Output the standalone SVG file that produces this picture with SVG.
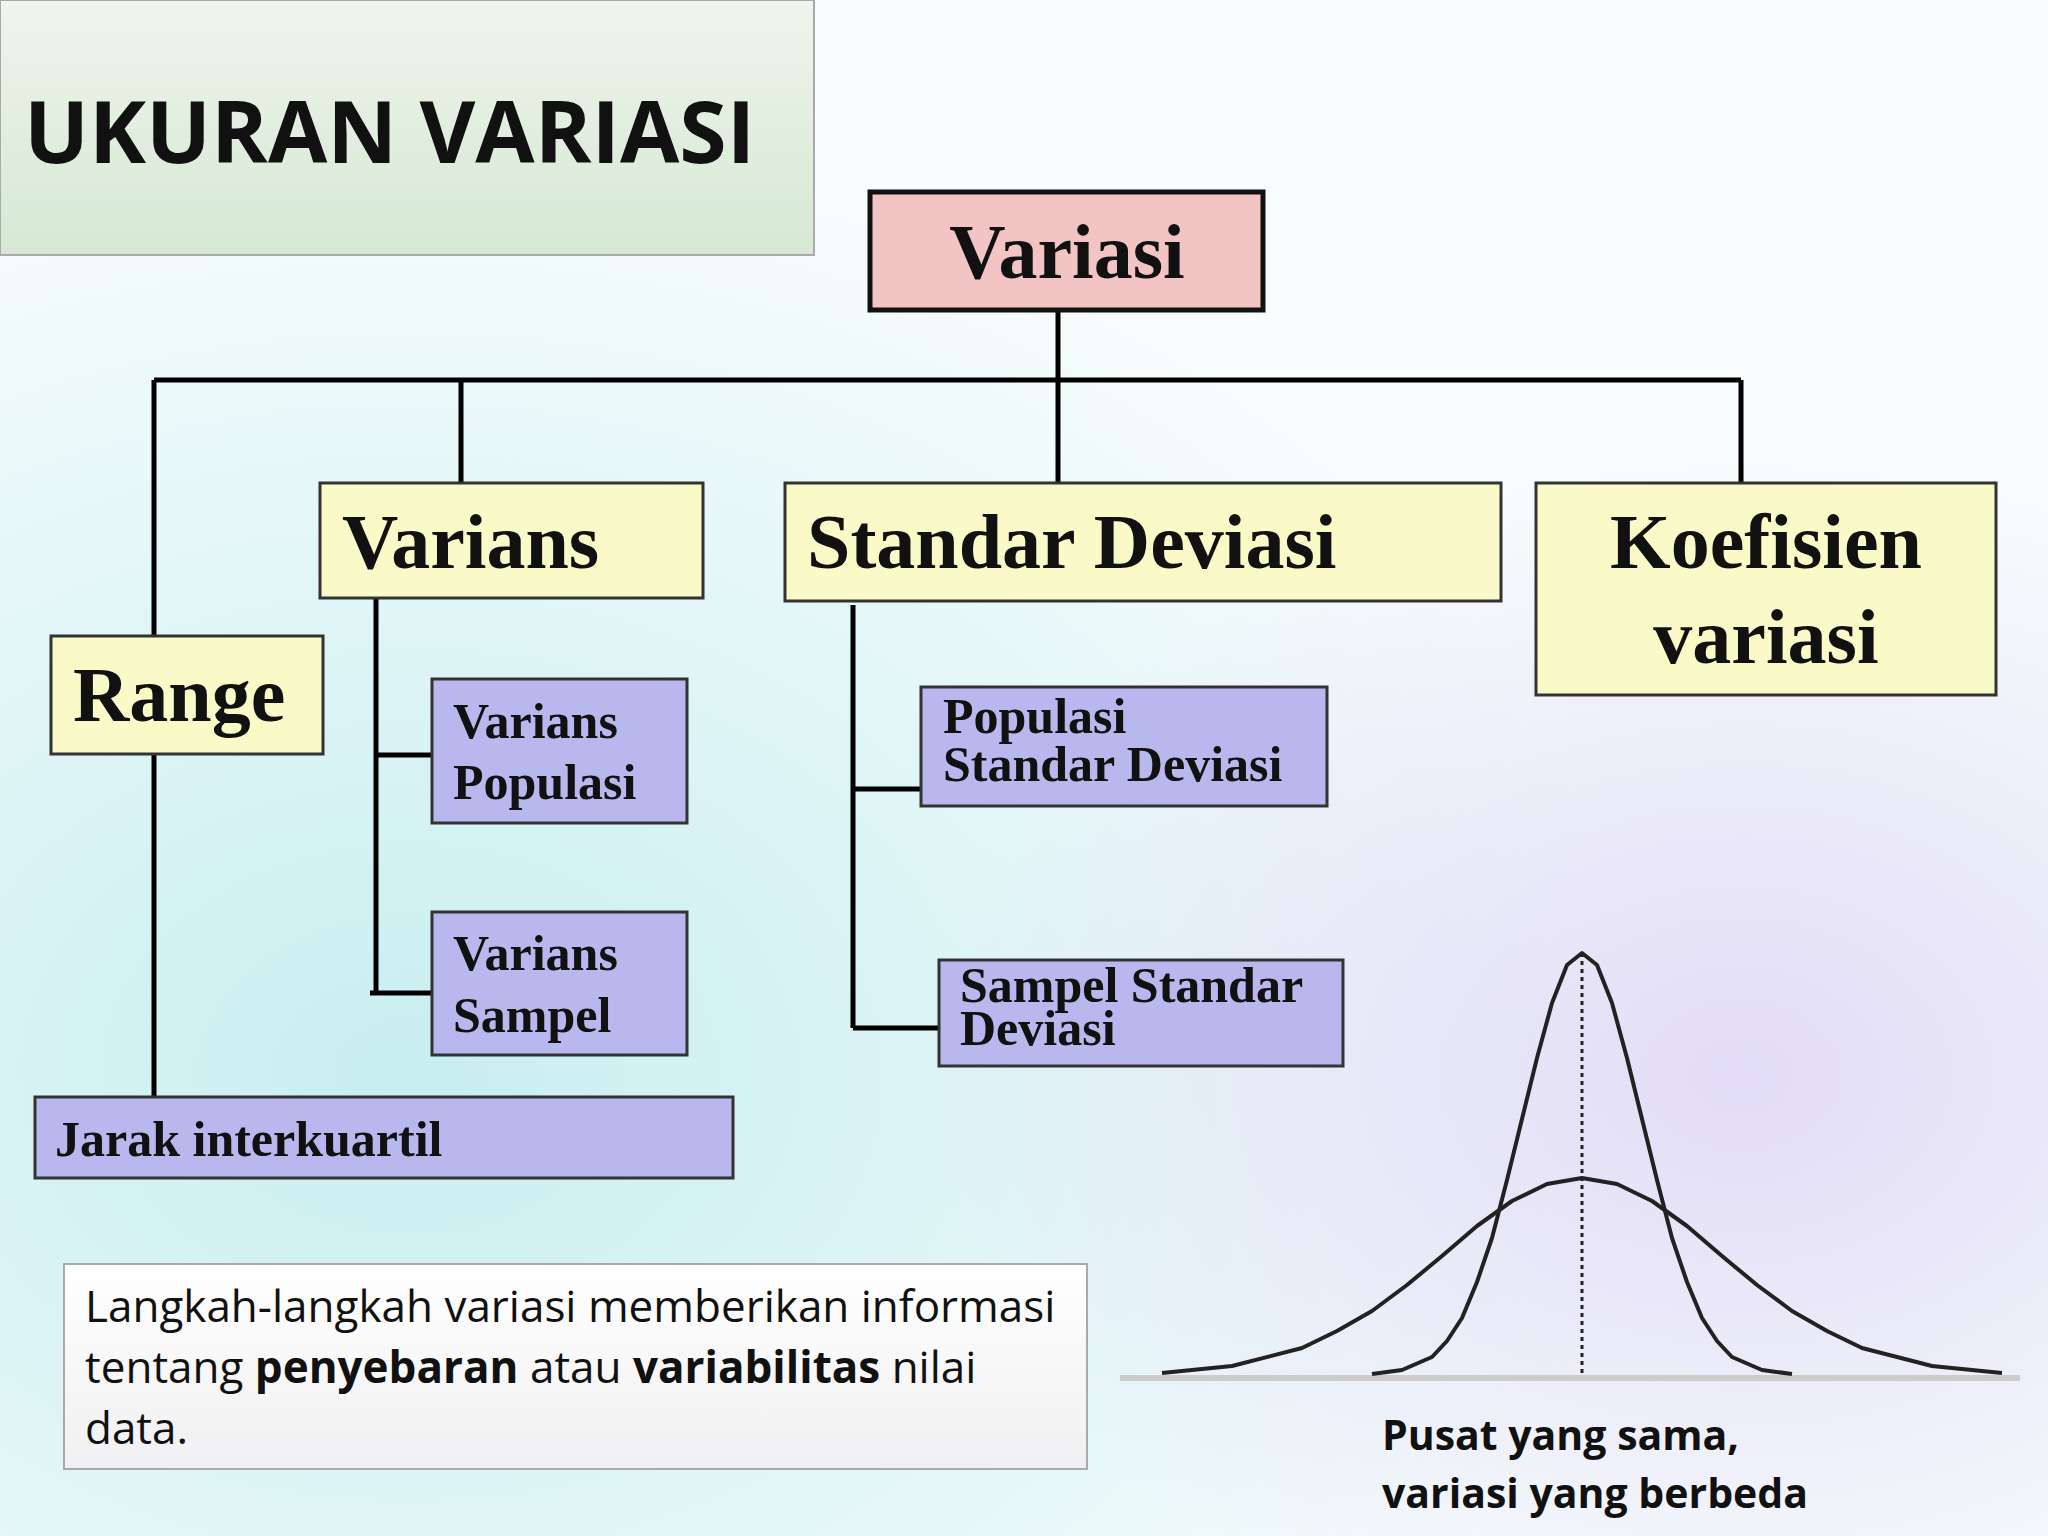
<svg xmlns="http://www.w3.org/2000/svg" width="2048" height="1536" viewBox="0 0 2048 1536">
<defs>
<radialGradient id="bgL" cx="0.2" cy="0.7" r="0.6"><stop offset="0" stop-color="#c8eef0"/><stop offset="1" stop-color="#c8eef0" stop-opacity="0"/></radialGradient>
<radialGradient id="bgR" cx="0.85" cy="0.7" r="0.4"><stop offset="0" stop-color="#e2dcf6"/><stop offset="1" stop-color="#e2dcf6" stop-opacity="0"/></radialGradient>
<linearGradient id="tg" x1="0" y1="0" x2="0" y2="1"><stop offset="0" stop-color="#eef5ec"/><stop offset="1" stop-color="#d6e8d4"/></linearGradient>
<linearGradient id="bg2" x1="0" y1="0" x2="0" y2="1"><stop offset="0" stop-color="#ffffff"/><stop offset="1" stop-color="#f0f0f2"/></linearGradient>
<style>
.c{stroke:#000;stroke-width:5;fill:none}
.y{fill:#fafac8;stroke:#333;stroke-width:3}
.p{fill:#b8b8ee;stroke:#333;stroke-width:3}
.big{font-family:"Liberation Serif",serif;font-weight:bold;font-size:78px;fill:#111}
.sm{font-family:"Liberation Serif",serif;font-weight:bold;font-size:50px;fill:#111}
.t{font-family:"Open Sans","Noto Sans",sans-serif;font-size:44px;fill:#111}
.cv{fill:none;stroke:#222;stroke-width:4;stroke-linejoin:round}
</style>
</defs>
<rect width="2048" height="1536" fill="#f7fcfc"/>
<rect width="2048" height="1536" fill="url(#bgL)"/>
<rect width="2048" height="1536" fill="url(#bgR)"/>
<g id="title"><rect x="0" y="0" width="814" height="255" fill="url(#tg)" stroke="#aaa" stroke-width="2"/>
<text x="24" y="163" font-family="Open Sans,Liberation Sans,sans-serif" font-weight="bold" font-size="86" fill="#111">UKURAN VARIASI</text></g>
<g id="connectors">
<path class="c" d="M1058 310V483M154 380H1741M461 380V483M1741 380V483M154 380V636M154 754V1097"/>
<path class="c" d="M376 598V993M376 755H432M370 993H432"/>
<path class="c" d="M853 605V1028M853 789H921M853 1028H939"/>
</g>
<g id="variasi"><rect x="870" y="192" width="393" height="118" fill="#f2c4c4" stroke="#111" stroke-width="5"/><text class="big" x="1067" y="278" text-anchor="middle">Variasi</text></g>
<g id="varians"><rect class="y" x="320" y="483" width="383" height="115"/><text class="big" x="342" y="568">Varians</text></g>
<g id="sd"><rect class="y" x="785" y="483" width="716" height="118"/><text class="big" x="807" y="568">Standar Deviasi</text></g>
<g id="kv"><rect class="y" x="1536" y="483" width="460" height="212"/><text class="big" x="1766" y="568" text-anchor="middle">Koefisien</text><text class="big" x="1766" y="663" text-anchor="middle">variasi</text></g>
<g id="range"><rect class="y" x="51" y="636" width="272" height="118"/><text class="big" x="73" y="721">Range</text></g>
<g id="jarak"><rect class="p" x="35" y="1097" width="698" height="81"/><text class="sm" x="55" y="1156">Jarak interkuartil</text></g>
<g id="vp"><rect class="p" x="432" y="679" width="255" height="144"/><text class="sm" x="453" y="738">Varians</text><text class="sm" x="453" y="799">Populasi</text></g>
<g id="vs"><rect class="p" x="432" y="912" width="255" height="143"/><text class="sm" x="453" y="970">Varians</text><text class="sm" x="453" y="1032">Sampel</text></g>
<g id="psd"><rect class="p" x="921" y="687" width="406" height="119"/><text class="sm" x="943" y="733">Populasi</text><text class="sm" x="943" y="781">Standar Deviasi</text></g>
<g id="ssd"><rect class="p" x="939" y="960" width="404" height="106"/><text class="sm" x="960" y="1002">Sampel Standar</text><text class="sm" x="960" y="1045">Deviasi</text></g>
<g id="note"><rect x="64" y="1264" width="1023" height="205" fill="url(#bg2)" stroke="#aaa" stroke-width="2"/>
<text class="t" x="85" y="1322">Langkah-langkah variasi memberikan informasi</text>
<text class="t" x="85" y="1383">tentang <tspan font-weight="bold">penyebaran</tspan> atau <tspan font-weight="bold">variabilitas</tspan> nilai</text>
<text class="t" x="85" y="1444">data.</text></g>
<g id="curves">
<line x1="1120" y1="1378" x2="2020" y2="1378" stroke="#ccc" stroke-width="6"/>
<line x1="1582" y1="953" x2="1582" y2="1375" stroke="#222" stroke-width="3" stroke-dasharray="4,4"/>
<polyline class="cv" points="1162,1373 1232,1366 1302,1348 1337,1331 1372,1311 1407,1285 1442,1256 1477,1226 1512,1201 1547,1184 1582,1178 1617,1184 1652,1201 1687,1226 1722,1256 1757,1285 1792,1311 1827,1331 1862,1348 1932,1366 2002,1373"/>
<polyline class="cv" points="1372,1374 1402,1370 1432,1357 1447,1341 1462,1318 1477,1282 1492,1238 1507,1180 1522,1119 1537,1058 1552,1003 1567,965 1582,953 1597,965 1612,1003 1627,1058 1642,1119 1657,1180 1672,1238 1687,1282 1702,1318 1717,1341 1732,1357 1762,1370 1792,1374"/>
<text x="1382" y="1450" font-family="Open Sans,Noto Sans,sans-serif" font-weight="bold" font-size="41" fill="#111">Pusat yang sama,</text>
<text x="1382" y="1508" font-family="Open Sans,Noto Sans,sans-serif" font-weight="bold" font-size="41" fill="#111">variasi yang berbeda</text>
</g>
</svg>
